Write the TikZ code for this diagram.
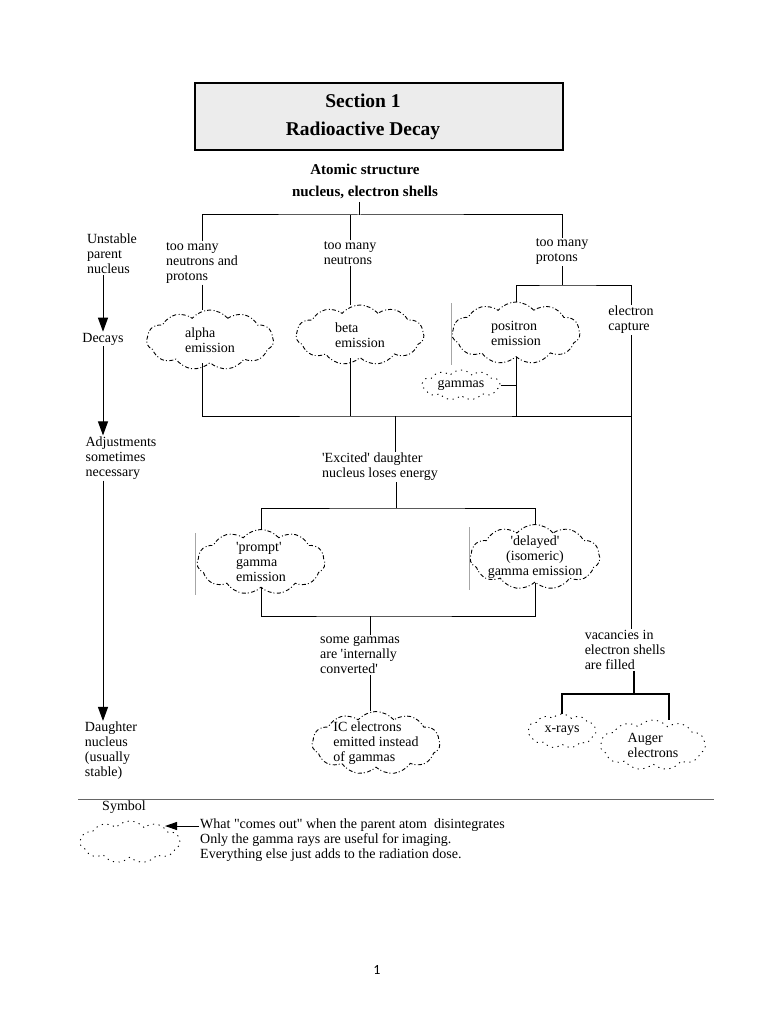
\documentclass[tikz,border=0pt]{standalone}
\usepackage{fontspec}
\setmainfont{Liberation Serif}
\newfontfamily\pagefont{Carlito}
\usetikzlibrary{shapes.symbols,arrows.meta}

\newcommand{\sq}{\textquotesingle}

\tikzset{
  lbl/.style={align=left, inner sep=1pt, font=\fontsize{14}{15}\selectfont},
  puff/.style={cloud, cloud puffs=11, cloud puff arc=100, draw, line width=0.9pt,
    dash pattern=on 4pt off 2pt on 1pt off 2.5pt, inner sep=0pt},
  dotpuff/.style={puff, dash pattern=on 1.2pt off 4.5pt},
  intext/.style={label={[lbl]center:#1}},
  link/.style={line width=1pt},
  boldlink/.style={line width=1.6pt},
  pointer/.style={line width=1pt, -{Triangle[width=10pt,length=14pt]}},
  guide/.style={gray!70, line width=0.8pt},
}

\begin{document}
\begin{tikzpicture}[x=1pt, y=-1pt]
  \useasboundingbox (0,0) rectangle (768,1024);

  % heading
  \node[draw, fill=gray!15, line width=1.2pt, minimum width=368pt, minimum height=67pt] (titlebox) at (379,116.5) {};
  \node[font=\bfseries\fontsize{19.5}{28}\selectfont, align=center] (title) at (363,117) {Section 1\\Radioactive Decay};
  \node[font=\bfseries\fontsize{15}{22}\selectfont, align=center] (atomic) at (365,181) {Atomic structure\\nucleus, electron shells};

  % left column
  \node[lbl] (unstable) at (112,254) {Unstable\\parent\\nucleus};
  \node[lbl] (decays) at (103,339) {Decays};
  \node[lbl] (adjust) at (121,458) {Adjustments\\sometimes\\necessary};
  \node[lbl] (daughter) at (111,751) {Daughter\\nucleus\\(usually\\stable)};
  \draw[pointer] (unstable.south -| decays) -- (decays.north);
  \draw[pointer] (decays.south) -- (decays.south |- adjust.north);
  \draw[pointer] (adjust.south -| decays) -- (decays |- daughter.north);

  % first split
  \node[lbl] (nnp) at (202,263) {too many\\neutrons and\\protons};
  \node[lbl] (tmn) at (350,253) {too many\\neutrons};
  \node[lbl] (tmp) at (562,252) {too many\\protons};
  \node[puff, minimum width=127pt, minimum height=60pt, intext={alpha\\emission}] (alpha) at (210,340) {};
  \node[puff, minimum width=128pt, minimum height=60pt, intext={beta\\emission}] (beta) at (360,335) {};
  \node[puff, minimum width=128pt, minimum height=62pt, intext={positron\\emission}] (positron) at (516,333) {};
  \node[lbl] (ec) at (631,320) {electron\\capture};
  \node[dotpuff, minimum width=78pt, minimum height=30pt, intext={gammas}] (gammas) at (461,385) {};
  \draw[guide] (451,303) -- (451,365);

  \coordinate (fork1) at (359,215);
  \coordinate (fork2) at (562,285);
  \coordinate (fork3) at (395,416);
  \draw[link] (atomic.south -| fork1) -- (fork1);
  \draw[link] (nnp.north) |- (fork1) -| (tmp.north);
  \draw[link] (tmn.north) -- (tmn.north |- fork1);
  \draw[link] (nnp.south) -- (nnp.south |- alpha.north);
  \draw[link] (tmn.south) -- (tmn.south |- beta.north);
  \draw[link] (tmp.south) -- (fork2);
  \draw[link] (positron.north) |- (fork2) -| (ec.north);
  \draw[link] (alpha.south -| nnp) |- (fork3) -| (ec.south);
  \draw[link] (beta.south -| tmn) -- (tmn |- fork3);
  \draw[link] (positron.south) -- (positron.south |- fork3);
  \draw[link] (gammas.east) -- (gammas.east -| positron.south);

  % daughter nucleus
  \node[lbl] (excited) at (380,467) {\sq Excited\sq{} daughter\\nucleus loses energy};
  \node[puff, minimum width=128pt, minimum height=65pt, intext={\sq prompt\sq\\gamma\\emission}] (prompt) at (261,562) {};
  \node[puff, minimum width=130pt, minimum height=65pt,
    label={[lbl, align=center]center:\sq delayed\sq\\(isomeric)\\gamma emission}] (delayed) at (535,557) {};
  \draw[guide] (195,533) -- (195,595);
  \draw[guide] (469,527) -- (469,590);

  \coordinate (fork4) at (396,508);
  \coordinate (fork5) at (370,616);
  \draw[link] (fork3) -- (fork3 |- excited.north);
  \draw[link] (excited.south -| fork4) -- (fork4);
  \draw[link] (prompt.north) |- (fork4) -| (delayed.north);
  \draw[link] (prompt.south) |- (fork5) -| (delayed.south);

  % internal conversion
  \node[lbl] (somegam) at (360,655) {some gammas\\are \sq internally\\converted\sq};
  \node[puff, minimum width=128pt, minimum height=63pt, intext={IC electrons\\emitted instead\\of gammas}] (ic) at (376,743) {};
  \draw[link] (fork5) -- (fork5 |- somegam.north);
  \draw[link] (somegam.south -| fork5) -- (fork5 |- ic.north);

  % electron shells
  \node[lbl] (vac) at (625,650) {vacancies in\\electron shells\\are filled};
  \node[dotpuff, minimum width=68pt, minimum height=34pt, intext={x-rays}] (xrays) at (562,731) {};
  \node[dotpuff, minimum width=105pt, minimum height=50pt, intext={Auger\\electrons}] (auger) at (653,745) {};
  \coordinate (fork6) at (634,694);
  \draw[link] (ec.south) -- (ec.south |- vac.north);
  \draw[boldlink] (vac.south -| fork6) -- (fork6);
  \draw[boldlink] (xrays.north) |- (fork6) -| ([xshift=16pt]auger.north);

  % key
  \draw[gray!80!black, line width=1pt] (78,799) -- (714,799);
  \node[lbl] (symlbl) at (124,807) {Symbol};
  \node[dotpuff, minimum width=100pt, minimum height=42pt] (symcloud) at (130,842) {};
  \node[lbl, anchor=north west] (expl) at (199,818) {What \textquotedbl comes out\textquotedbl{} when the parent atom\ \ disintegrates\\Only the gamma rays are useful for imaging.\\Everything else just adds to the radiation dose.};
  \coordinate (symtip) at (165,826);
  \draw[line width=1pt, -{Triangle[width=8pt,length=12pt]}] (expl.north west |- symtip) -- (symtip);

  \node[font=\pagefont\fontsize{14}{16}\selectfont] (pageno) at (377,970) {1};
\end{tikzpicture}
\end{document}
